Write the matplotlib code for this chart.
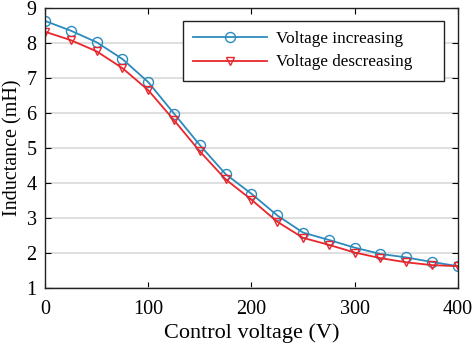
import matplotlib.pyplot as plt

# Control voltage (V)
voltage = [0, 25, 50, 75, 100, 125, 150, 175, 200, 225, 250, 275, 300, 325, 350, 375, 400]
# Inductance (mH)
ind_up = [8.63, 8.35, 8.02, 7.54, 6.88, 5.98, 5.08, 4.25, 3.69, 3.07, 2.58, 2.37, 2.15, 1.97, 1.87, 1.74, 1.62]
ind_down = [8.32, 8.08, 7.76, 7.28, 6.65, 5.79, 4.90, 4.10, 3.52, 2.89, 2.43, 2.23, 2.01, 1.85, 1.73, 1.65, 1.62]

plt.rcParams['font.family'] = ['Liberation Serif', 'DejaVu Serif']

fig = plt.figure(figsize=(4.74, 3.46), dpi=100)
ax = fig.add_axes([0.095, 0.168, 0.871, 0.809])

ax.plot(voltage, ind_up, color='#2b8bbd', marker='o', markersize=7.2, mfc='none',
        mew=1.0, lw=1.3, label='Voltage increasing')
ax.plot(voltage, ind_down, color='#e8262b', marker='v', markersize=6, mfc='none',
        mew=1.0, lw=1.3, label='Voltage descreasing')

ax.set_xlim(0, 400)
ax.set_ylim(1, 9)
ax.set_xticks([0, 100, 200, 300, 400])
ax.set_yticks(range(1, 10))
ax.yaxis.grid(True, color='#d9d9d9', lw=1.2)
ax.set_axisbelow(True)
ax.tick_params(direction='in', top=True, right=True, labelsize=14.5, length=4)
ax.tick_params(axis='x', pad=9)
ax.tick_params(axis='y', pad=6)
for s in ax.spines.values():
    s.set_linewidth(1.0)
    s.set_color('#222222')

ax.set_xlabel('Control voltage (V)', fontsize=16, labelpad=3)
ax.set_ylabel('Inductance (mH)', fontsize=14.5, labelpad=3)

leg = ax.legend(loc='upper left', bbox_to_anchor=(0.334, 0.735, 0.632, 0.22),
                mode='expand', fontsize=12.3, fancybox=False, edgecolor='#222222',
                framealpha=1, handlelength=4.3, handletextpad=0.55,
                borderpad=0.6, labelspacing=0.45, borderaxespad=0)
leg.get_frame().set_linewidth(1.0)

fig.savefig('out.png', dpi=100)
